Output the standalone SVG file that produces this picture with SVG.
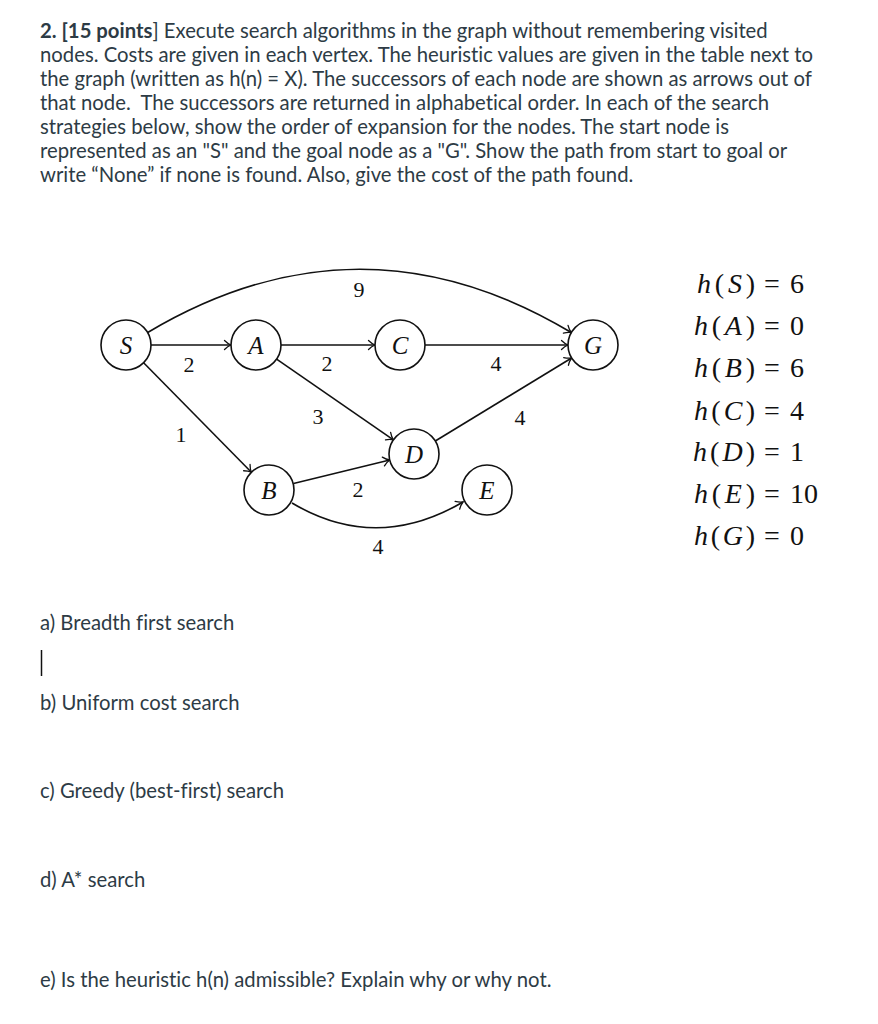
<svg xmlns="http://www.w3.org/2000/svg" width="878" height="1024" viewBox="0 0 878 1024">
<style>
.t{font-family:Lato,"Open Sans","Liberation Sans",sans-serif;font-size:20.3px;fill:#2d3b45;font-variant-ligatures:none}
.b{font-weight:bold}
.node circle{fill:#fff;stroke:#111;stroke-width:1.6}
.node text{font-family:"Liberation Serif","DejaVu Serif",serif;font-style:italic;font-size:25px;fill:#111;text-anchor:middle}
.edges path{fill:none;stroke:#111;stroke-width:1.6}
.lbl{font-family:"Liberation Serif","DejaVu Serif",serif;font-size:22px;fill:#111;text-anchor:middle}
.h{font-family:"Liberation Serif","DejaVu Serif",serif;font-size:28px;fill:#111}
.h .i{font-style:italic}
</style>
<defs>
<marker id="arr" markerWidth="12" markerHeight="12" refX="0" refY="0" viewBox="-8 -6 10 12" orient="auto" markerUnits="userSpaceOnUse">
<path d="M-6.5,-4.5 C-4,-2 -1.5,-0.6 0,0 C-1.5,0.6 -4,2 -6.5,4.5" fill="none" stroke="#111" stroke-width="1.3" stroke-linecap="round"/>
</marker>
</defs>
<rect width="878" height="1024" fill="#fff"/>

<g id="question">
<text class="t" x="40" y="38"><tspan class="b">2. [15 points</tspan>] Execute search algorithms in the graph without remembering visited</text>
<text class="t" x="40" y="62">nodes. Costs are given in each vertex. The heuristic values are given in the table next to</text>
<text class="t" x="40" y="86">the graph (written as h(n) = X). The successors of each node are shown as arrows out of</text>
<text class="t" x="40" y="110" xml:space="preserve">that node.  The successors are returned in alphabetical order. In each of the search</text>
<text class="t" x="40" y="134">strategies below, show the order of expansion for the nodes. The start node is</text>
<text class="t" x="40" y="158">represented as an "S" and the goal node as a "G". Show the path from start to goal or</text>
<text class="t" x="40" y="182">write “None” if none is found. Also, give the cost of the path found.</text>
</g>

<g class="edges" id="connectors">
<path d="M151,345 L231,345" marker-end="url(#arr)"/>
<path d="M281,345 L375,345" marker-end="url(#arr)"/>
<path d="M425,345 L568,345" marker-end="url(#arr)"/>
<path d="M147.7,332.5 Q360,206 571.3,332.5" marker-end="url(#arr)"/>
<path d="M143.6,362.8 L251.4,472.2" marker-end="url(#arr)"/>
<path d="M276.6,359.2 L393.4,439.8" marker-end="url(#arr)"/>
<path d="M435.3,441 L571.6,358" marker-end="url(#arr)"/>
<path d="M293.5,483.5 L389.7,460" marker-end="url(#arr)"/>
<path d="M292,503 Q376,553 463,502" marker-end="url(#arr)"/>
<text class="lbl" x="359" y="297">9</text>
<text class="lbl" x="189" y="372">2</text>
<text class="lbl" x="327" y="371">2</text>
<text class="lbl" x="496" y="371">4</text>
<text class="lbl" x="181" y="442">1</text>
<text class="lbl" x="318" y="424">3</text>
<text class="lbl" x="520" y="425">4</text>
<text class="lbl" x="358" y="497">2</text>
<text class="lbl" x="378" y="554">4</text>
</g>

<g id="node-S" class="node"><circle cx="126" cy="345" r="25"/><text x="126" y="354">S</text></g>
<g id="node-A" class="node"><circle cx="256" cy="345" r="25"/><text x="256" y="354">A</text></g>
<g id="node-C" class="node"><circle cx="400" cy="345" r="25"/><text x="400" y="354">C</text></g>
<g id="node-G" class="node"><circle cx="593" cy="345" r="25"/><text x="593" y="354">G</text></g>
<g id="node-B" class="node"><circle cx="269" cy="490" r="25"/><text x="269" y="499">B</text></g>
<g id="node-D" class="node"><circle cx="414" cy="454" r="25"/><text x="414" y="463">D</text></g>
<g id="node-E" class="node"><circle cx="487" cy="490" r="25"/><text x="487" y="499">E</text></g>

<g id="heuristics" class="h">
<text x="697" y="293" textLength="58" lengthAdjust="spacing"><tspan class="i">h</tspan>(<tspan class="i">S</tspan>)</text><text x="772" y="293" text-anchor="middle">=</text><text x="790" y="293">6</text>
<text x="694" y="335" textLength="61" lengthAdjust="spacing"><tspan class="i">h</tspan>(<tspan class="i">A</tspan>)</text><text x="772" y="335" text-anchor="middle">=</text><text x="790" y="335">0</text>
<text x="694" y="377" textLength="61" lengthAdjust="spacing"><tspan class="i">h</tspan>(<tspan class="i">B</tspan>)</text><text x="772" y="377" text-anchor="middle">=</text><text x="790" y="377">6</text>
<text x="694" y="420" textLength="61" lengthAdjust="spacing"><tspan class="i">h</tspan>(<tspan class="i">C</tspan>)</text><text x="772" y="420" text-anchor="middle">=</text><text x="790" y="420">4</text>
<text x="693" y="461" textLength="62" lengthAdjust="spacing"><tspan class="i">h</tspan>(<tspan class="i">D</tspan>)</text><text x="772" y="461" text-anchor="middle">=</text><text x="790" y="461">1</text>
<text x="694" y="503" textLength="61" lengthAdjust="spacing"><tspan class="i">h</tspan>(<tspan class="i">E</tspan>)</text><text x="772" y="503" text-anchor="middle">=</text><text x="790" y="503">10</text>
<text x="694" y="545" textLength="61" lengthAdjust="spacing"><tspan class="i">h</tspan>(<tspan class="i">G</tspan>)</text><text x="772" y="545" text-anchor="middle">=</text><text x="790" y="545">0</text>
</g>

<g id="parts">
<text class="t" x="40" y="630">a) Breadth first search</text>
<line x1="41.5" y1="650" x2="41.5" y2="676" stroke="#111" stroke-width="1.5"/>
<text class="t" x="40" y="710">b) Uniform cost search</text>
<text class="t" x="40" y="798">c) Greedy (best-first) search</text>
<text class="t" x="40" y="887">d) A* search</text>
<text class="t" x="40" y="987">e) Is the heuristic h(n) admissible? Explain why or why not.</text>
</g>
</svg>
